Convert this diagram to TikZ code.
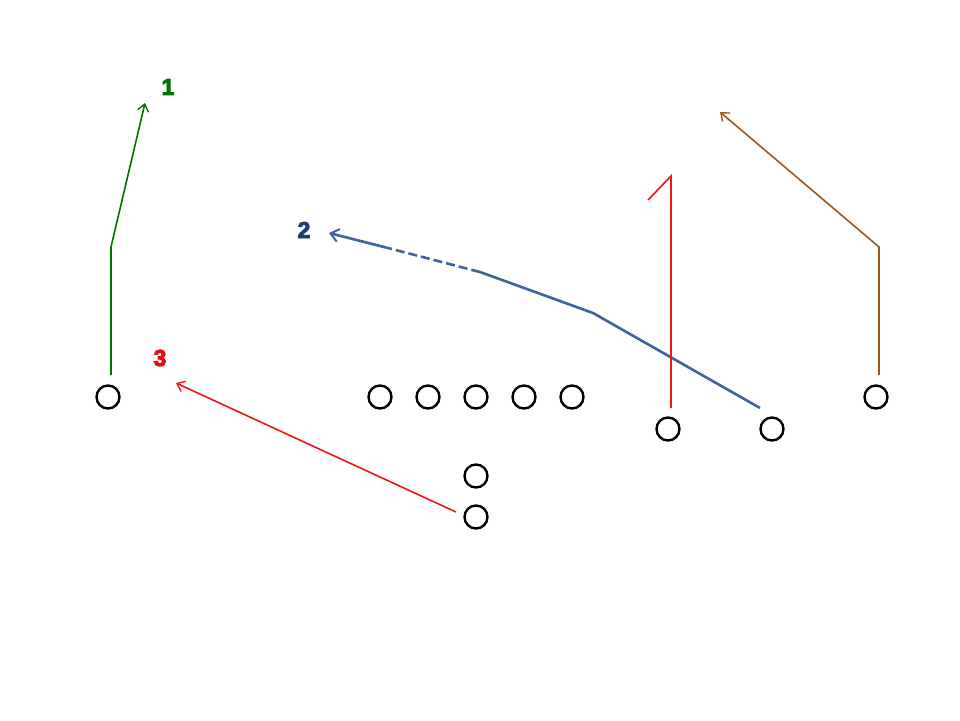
\documentclass[tikz,border=0pt]{standalone}
\usepackage{fontspec}
\newfontfamily\lblfont[FakeBold=4]{Liberation Sans Bold}
\usetikzlibrary{arrows.meta}
\definecolor{rgreen}{RGB}{0,115,0}
\definecolor{rblue}{RGB}{62,100,155}
\definecolor{lblue}{RGB}{25,62,115}
\definecolor{rred}{RGB}{240,20,20}
\definecolor{lred}{RGB}{235,10,10}
\definecolor{rbrown}{RGB}{158,88,30}
\begin{document}
\begin{tikzpicture}[x=1pt,y=-1pt,
  player/.style={circle,draw=black,line width=2.4pt,minimum size=23pt,inner sep=0pt},
  route/.style={line width=1.6pt},
  tip/.style={-{Straight Barb[length=7pt,width=11pt,line width=1.4pt]}},
  lbl/.style={font=\lblfont\fontsize{23}{23}\selectfont,inner sep=0pt}]
\useasboundingbox (0,0) rectangle (960,720);
% players
\node[player] (wl) at (108,397) {};
\node[player] (lt) at (380,397) {};
\node[player] (lg) at (428,397) {};
\node[player] (c) at (476,397) {};
\node[player] (rg) at (524,397) {};
\node[player] (rt) at (572,397) {};
\node[player] (te) at (668,429) {};
\node[player] (sl) at (772,429) {};
\node[player] (wr) at (876,397) {};
\node[player] (qb) at (476,476) {};
\node[player] (rb) at (476,517) {};
% labels
\node[lbl,text=rgreen] (l1) at (168,87) {1};
\node[lbl,text=lblue] (l2) at (304,230) {2};
\node[lbl,text=lred] (l3) at (160,358) {3};
% route coordinates
\coordinate (g0) at (111,375);
\coordinate (g1) at (111,247);
\coordinate (g2) at (145,103);
\coordinate (b0) at (760,408);
\coordinate (b1) at (593,313);
\coordinate (b2) at (480,272);
\coordinate (b3) at (388,248);
\coordinate (b4) at (329,233);
\coordinate (r0) at (671,408);
\coordinate (r1) at (671,176);
\coordinate (r2) at (648,200);
\coordinate (w0) at (879,375);
\coordinate (w1) at (879,247);
\coordinate (w2) at (720,112);
\coordinate (k0) at (456,512);
\coordinate (k1) at (176,383);
% routes
\draw[route,rgreen,tip] (g0) -- (g1) -- (g2);
\draw[route,rblue,line width=2.6pt,line join=round] (b0) -- (b1) -- (b2);
\draw[route,rblue,line width=2.6pt,dash pattern=on 9pt off 4pt] (b2) -- (b3);
\draw[route,rblue,line width=2.6pt,-{Straight Barb[length=8pt,width=13pt,line width=2pt]}] (b3) -- (b4);
\draw[route,rred] (r0) -- (r1) -- (r2);
\draw[route,rbrown,tip] (w0) -- (w1) -- (w2);
\draw[route,rred,tip] (k0) -- (k1);
\end{tikzpicture}
\end{document}
